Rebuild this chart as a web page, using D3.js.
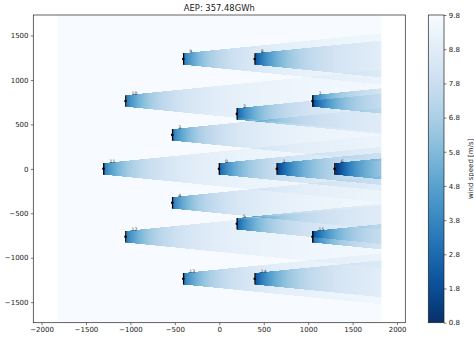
<!DOCTYPE html>
<html><head><meta charset="utf-8">
<script src="https://cdn.jsdelivr.net/npm/d3@7/dist/d3.min.js"></script>
<style>
body{margin:0;background:#fff}
svg{display:block}
text{font-family:"DejaVu Sans",sans-serif;fill:#222}
</style>
</head><body>
<svg id="chart" width="474" height="339"></svg>
<script>
// ---- data ----
const titleText = "AEP: 357.48GWh";
const turbineIds = [0,1,2,3,4,5,6,7,8,9,10,11,12,13,14,15];
const turbineX = [0, 650, 200.861, -525.861, -525.861, 200.861, 1300, 1051.722, 401.722, -401.722, -1051.722, -1300, -1051.722, -401.722, 401.722, 1051.722];
const turbineY = [0, 0, 618.187, 382.060, -382.060, -618.187, 0, 764.121, 1236.374, 1236.374, 764.121, 0, -764.121, -1236.374, -1236.374, -764.121];
const wakeDeficitAtRotor = [6.53,6.53,6.53,6.53,6.53,6.53,6.53,6.53,6.53,6.53,6.53,6.53,6.53,6.53,6.53,6.53]; // m/s
const freeStreamWS = 9.8;
const rotorDiameter = 130;
const wakeExpansion = 0.1;
const gridX = [-1820, 1820];
const gridY = [-1730.8, 1730.8];
const xTicks = [-2000,-1500,-1000,-500,0,500,1000,1500,2000];
const yTicks = [-1500,-1000,-500,0,500,1000,1500];
const cbTicks = [0.8,1.8,2.8,3.8,4.8,5.8,6.8,7.8,8.8,9.8];
const cbDomain = [0.8, 9.8];
const cbLabel = "wind speed [m/s]";

// ---- layout ----
const svg = d3.select("#chart");
const plot = {left:33.3, top:15, right:405.3, bottom:322.7};
const pxPerUnit = (plot.bottom - plot.top) / (gridY[1] - gridY[0]);
const xHalf = (plot.right - plot.left) / 2 / pxPerUnit;
const x = d3.scaleLinear().domain([-xHalf, xHalf]).range([plot.left, plot.right]);
const y = d3.scaleLinear().domain(gridY).range([plot.bottom, plot.top]);
const color = d3.scaleSequential(d3.interpolateBlues).domain([cbDomain[1], cbDomain[0]]);

// ---- wake field raster ----
const cw = Math.ceil(plot.right - plot.left), ch = Math.ceil(plot.bottom - plot.top);
const canvas = document.createElement("canvas");
canvas.width = cw; canvas.height = ch;
const ctx = canvas.getContext("2d");
const img = ctx.createImageData(cw, ch);
const R = rotorDiameter / 2;
for (let j = 0; j < ch; j++) {
  const yd = y.invert(plot.top + j + 0.5);
  for (let i = 0; i < cw; i++) {
    const xd = x.invert(plot.left + i + 0.5);
    const k = (j * cw + i) * 4;
    if (xd < gridX[0] || xd > gridX[1] || yd < gridY[0] || yd > gridY[1]) { img.data[k+3] = 0; continue; }
    let def = 0;
    for (let t = 0; t < turbineIds.length; t++) {
      const dx = xd - turbineX[t];
      if (dx <= 0) continue;
      const rw = R + wakeExpansion * dx;
      if (Math.abs(yd - turbineY[t]) < rw) def += wakeDeficitAtRotor[t] * Math.pow(R / rw, 2);
    }
    let ws = Math.max(cbDomain[0], Math.min(cbDomain[1], freeStreamWS - def));
    const c = d3.rgb(color(ws));
    img.data[k] = c.r; img.data[k+1] = c.g; img.data[k+2] = c.b; img.data[k+3] = 255;
  }
}
ctx.putImageData(img, 0, 0);
svg.append("image").attr("x", plot.left).attr("y", plot.top)
  .attr("width", cw).attr("height", ch)
  .attr("preserveAspectRatio", "none")
  .attr("href", canvas.toDataURL());
svg.append("clipPath").attr("id","clip").append("rect")
  .attr("x", plot.left).attr("y", plot.top).attr("width", plot.right-plot.left).attr("height", plot.bottom-plot.top);

// ---- turbines ----
const tg = svg.append("g");
turbineIds.forEach((id, t) => {
  tg.append("line")
    .attr("x1", x(turbineX[t])).attr("x2", x(turbineX[t]))
    .attr("y1", y(turbineY[t] + R)).attr("y2", y(turbineY[t] - R))
    .attr("stroke", "#000").attr("stroke-width", 1.3);
  tg.append("circle").attr("cx", x(turbineX[t]) - 0.3).attr("cy", y(turbineY[t]))
    .attr("r", 1.3).attr("fill", "#000");
  tg.append("text").attr("x", x(turbineX[t] + R)).attr("y", y(turbineY[t] + R))
    .attr("font-size", 4.6).style("fill", "#333").text(id);
});

// ---- axes ----
const gx = svg.append("g").attr("transform", `translate(0,${plot.bottom})`)
  .call(d3.axisBottom(x).tickValues(xTicks).tickSize(2.5).tickPadding(2.3).tickFormat(d => d < 0 ? "\u2212" + Math.abs(d) : d));
const gy = svg.append("g").attr("transform", `translate(${plot.left},0)`)
  .call(d3.axisLeft(y).tickValues(yTicks).tickSize(2.5).tickPadding(2.3).tickFormat(d => d < 0 ? "\u2212" + Math.abs(d) : d));
[gx, gy].forEach(g => {
  g.select(".domain").remove();
  g.selectAll("line").attr("stroke", "#222").attr("stroke-width", 0.6);
  g.selectAll("text").attr("font-size", 7).style("font-family", '"DejaVu Sans",sans-serif').style("fill", "#222");
});
svg.append("rect").attr("x", plot.left).attr("y", plot.top)
  .attr("width", plot.right - plot.left).attr("height", plot.bottom - plot.top)
  .attr("fill", "none").attr("stroke", "#222").attr("stroke-width", 0.7);

// ---- title ----
svg.append("text").attr("x", (plot.left + plot.right) / 2).attr("y", 11.2)
  .attr("text-anchor", "middle").attr("font-size", 8.4).text(titleText);

// ---- colorbar ----
const cb = {left:428.3, right:444, top:plot.top, bottom:plot.bottom};
const cbScale = d3.scaleLinear().domain(cbDomain).range([cb.bottom, cb.top]);
const grad = svg.append("defs").append("linearGradient").attr("id", "cbgrad")
  .attr("x1", 0).attr("y1", 1).attr("x2", 0).attr("y2", 0);
d3.range(0, 1.0001, 0.05).forEach(f => {
  grad.append("stop").attr("offset", f).attr("stop-color", color(cbDomain[0] + f * (cbDomain[1] - cbDomain[0])));
});
svg.append("rect").attr("x", cb.left).attr("y", cb.top).attr("width", cb.right - cb.left)
  .attr("height", cb.bottom - cb.top).attr("fill", "url(#cbgrad)")
  .attr("stroke", "#222").attr("stroke-width", 0.7);
const gcb = svg.append("g").attr("transform", `translate(${cb.right},0)`)
  .call(d3.axisRight(cbScale).tickValues(cbTicks).tickSize(2.5).tickPadding(2.3).tickFormat(d3.format(".1f")));
gcb.select(".domain").remove();
gcb.selectAll("line").attr("stroke", "#222").attr("stroke-width", 0.6);
gcb.selectAll("text").attr("font-size", 7).style("font-family", '"DejaVu Sans",sans-serif').style("fill", "#222");
svg.append("text").attr("transform", `translate(472.5,${(cb.top + cb.bottom) / 2}) rotate(-90)`)
  .attr("text-anchor", "middle").attr("font-size", 7).text(cbLabel);
</script>
</body></html>
